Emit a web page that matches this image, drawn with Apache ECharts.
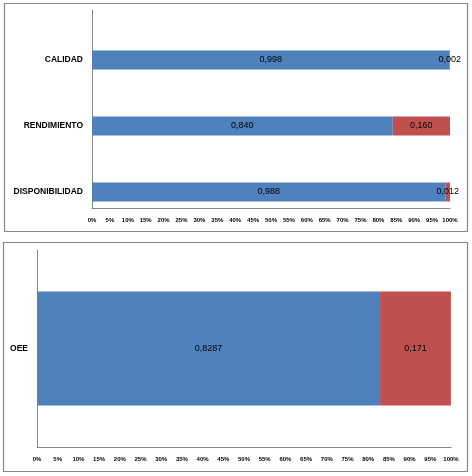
<!DOCTYPE html>
<html>
<head>
<meta charset="utf-8">
<script src="https://cdn.jsdelivr.net/npm/echarts@6/dist/echarts.min.js"></script>
<style>
  html, body { margin: 0; padding: 0; background: #fff; }
  #main { width: 472px; height: 476px; }
</style>
</head>
<body>
<div id="main"></div>
<script>
// datos (de abajo hacia arriba, como en Excel)
var categorias = ['DISPONIBILIDAD', 'RENDIMIENTO', 'CALIDAD'];
var valoresOk = [0.988, 0.840, 0.998];
var valoresPerdida = [0.012, 0.160, 0.002];
var textosOk = ['0,988', '0,840', '0,998'];
var textosPerdida = ['0,012', '0,160', '0,002'];

var categoriasOee = ['OEE'];
var oeeOk = [0.8287];
var oeePerdida = [0.171];
var textosOeeOk = ['0,8287'];
var textosOeePerdida = ['0,171'];

var ticks = [0, 0.05, 0.1, 0.15, 0.2, 0.25, 0.3, 0.35, 0.4, 0.45, 0.5, 0.55, 0.6, 0.65, 0.7, 0.75, 0.8, 0.85, 0.9, 0.95, 1];

var azul = '#4f81bd';
var rojo = '#c0504d';
var gris = '#868686';
var fuente = 'Liberation Sans';

function ejeX(gridIndex, visible) {
    return {
        type: 'value', gridIndex: gridIndex, min: ticks[0], max: ticks[ticks.length - 1], interval: 0.05,
        show: visible,
        axisLine: { show: true, lineStyle: { color: gris, width: 1 } },
        axisTick: { show: false },
        splitLine: { show: false },
        axisLabel: {
            margin: 9, fontSize: 6, fontWeight: 'bold', color: '#000', fontFamily: fuente,
            formatter: function (v) { return Math.round(v * 100) + '%'; }
        }
    };
}

function etiqueta(textos) {
    return {
        show: true, position: 'inside', color: '#000', fontSize: 9, fontFamily: fuente,
        formatter: function (p) { return textos[p.dataIndex]; }
    };
}

var option = {
    animation: false,
    graphic: {
        elements: [
            { type: 'rect', shape: { x: 4.5, y: 3.5, width: 463, height: 228 }, style: { fill: 'none', stroke: gris, lineWidth: 1.2 } },
            { type: 'rect', shape: { x: 3.5, y: 242.5, width: 464, height: 229 }, style: { fill: 'none', stroke: gris, lineWidth: 1.2 } }
        ]
    },
    grid: [
        { left: 92, top: 10, width: 358, height: 198 },   // marco de ejes superior
        { left: 92, top: 27, width: 358, height: 198 },   // barras superiores
        { left: 37, top: 250, width: 414, height: 197 }   // OEE
    ],
    xAxis: [ejeX(0, true), ejeX(1, false), ejeX(2, true)],
    yAxis: [
        {
            type: 'value', gridIndex: 0, min: 0, max: 1,
            axisLine: { show: true, lineStyle: { color: gris, width: 1 } },
            axisTick: { show: false }, axisLabel: { show: false }, splitLine: { show: false }
        },
        {
            type: 'category', gridIndex: 1, data: categorias,
            axisLine: { show: false }, axisTick: { show: false },
            axisLabel: { margin: 9, fontSize: 8.5, fontWeight: 'bold', color: '#000', fontFamily: fuente }
        },
        {
            type: 'category', gridIndex: 2, data: categoriasOee,
            axisLine: { show: true, lineStyle: { color: gris, width: 1 } }, axisTick: { show: false },
            axisLabel: { margin: 9, fontSize: 8.5, fontWeight: 'bold', color: '#000', fontFamily: fuente }
        }
    ],
    series: [
        {
            type: 'bar', name: 'ok', stack: 'a', xAxisIndex: 1, yAxisIndex: 1,
            data: valoresOk, barWidth: 19, itemStyle: { color: azul }, label: etiqueta(textosOk)
        },
        {
            type: 'bar', name: 'perdida', stack: 'a', xAxisIndex: 1, yAxisIndex: 1,
            data: valoresPerdida, barWidth: 19, itemStyle: { color: rojo }, label: etiqueta(textosPerdida)
        },
        {
            type: 'bar', name: 'oee', stack: 'b', xAxisIndex: 2, yAxisIndex: 2,
            data: oeeOk, barWidth: 114, itemStyle: { color: azul }, label: etiqueta(textosOeeOk)
        },
        {
            type: 'bar', name: 'oeePerdida', stack: 'b', xAxisIndex: 2, yAxisIndex: 2,
            data: oeePerdida, barWidth: 114, itemStyle: { color: rojo }, label: etiqueta(textosOeePerdida)
        }
    ]
};

echarts.init(document.getElementById('main')).setOption(option);
</script>
</body>
</html>
